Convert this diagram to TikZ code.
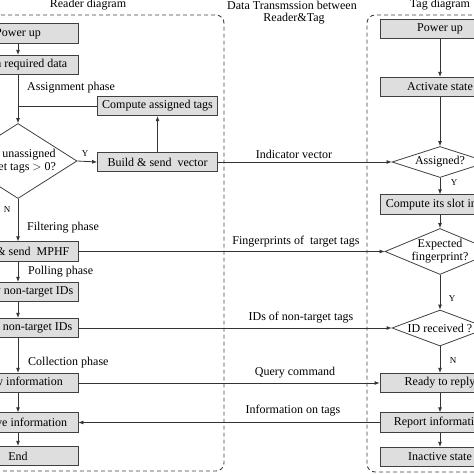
\documentclass[tikz,border=0pt]{standalone}
\usepackage{fontspec}
\setmainfont{Liberation Serif}
\usetikzlibrary{arrows.meta,shapes.geometric}
\begin{document}
\begin{tikzpicture}[x=1pt,y=-1pt,
  line/.style={draw=black!80, line width=0.8pt},
  arr/.style={line, -{Latex[length=5pt,width=4pt]}},
  box/.style={draw=black!75, line width=0.8pt, fill=black!13, minimum width=120pt, minimum height=19.5pt, inner sep=0pt, font=\fontsize{12}{13}\selectfont},
  dec/.style={draw=black!75, line width=0.8pt, shape=diamond, inner sep=0pt},
  dectext/.style={font=\fontsize{12}{13}\selectfont, align=center, inner sep=0pt},
  lbl/.style={font=\fontsize{12}{13}\selectfont, inner sep=0pt},
  yn/.style={font=\fontsize{9}{10}\selectfont, inner sep=0pt},
  frame/.style={draw=black!75, line width=0.9pt, dash pattern=on 4pt off 3pt, rounded corners=8pt}]
\useasboundingbox (0,0) rectangle (474,474);
\clip (0,0) rectangle (474,474);

% titles
\node[lbl] (t1) at (88,5) {Reader diagram};
\node[lbl] (t2) at (292,5) {Data Transmssion between};
\node[lbl] (t3) at (294,19) {Reader\&Tag};
\node[lbl] (t4) at (440,5) {Tag diagram};

% frames
\draw[frame] (-20,15) -- (224,15) -- (224,471) -- (-20,471);
\draw[frame] (500,15) -- (367,15) -- (367,472) -- (500,472);

% reader side
\node[box] (rpow) at (18,33.5) {Power up};
\node[box] (rreq) at (18,65) {Obtain required data};
\node[box] (rcomp) at (157.5,106) {Compute assigned tags};
\node[dec, minimum width=118pt, minimum height=75pt] (rdec) at (18,161) {};
\node[dectext] (rdect) at (18,161) {\# of unassigned\\target tags $>$ 0?};
\node[box] (rbuild) at (157.5,162) {Build \& send\ \ vector};
\node[box] (rmphf) at (18,251.5) {Build \& send\ \ MPHF};
\node[box] (rid1) at (18,292) {Identify non-target IDs};
\node[box] (rid2) at (18,328) {Deliver non-target IDs};
\node[box] (rquery) at (18,383) {Query information};
\node[box] (rrecv) at (18,422.5) {Receive information};
\node[box] (rend) at (18,456) {End};

\coordinate (rjoin) at (18,106);

\node[lbl, anchor=west] (pa) at (27,88) {Assignment phase};
\node[lbl, anchor=west] (pf) at (27,228) {Filtering phase};
\node[lbl, anchor=west] (pp) at (28,272) {Polling phase};
\node[lbl, anchor=west] (pc) at (28,363) {Collection phase};

\draw[arr] (rpow) -- (rreq);
\draw[arr] (rreq.south) -- (rdec.north);
\draw[line] (rcomp.west) -- (rjoin);
\draw[arr] (rdec.east) -- (rbuild.west);
\draw[arr] (rbuild.north) -- (rcomp.south);
\draw[arr] (rdec.south) -- (rmphf.north);
\draw[arr] (rmphf) -- (rid1);
\draw[arr] (rid1) -- (rid2);
\draw[arr] (rid2) -- (rquery);
\draw[arr] (rquery) -- (rrecv);
\draw[arr] (rrecv) -- (rend);
\node[yn] (ry) at (85,154) {Y};
\node[yn] (rn) at (7,210) {N};

% tag side
\node[box] (tpow) at (440,29) {Power up};
\node[box] (tact) at (440,87) {Activate state};
\node[dec, minimum width=96pt, minimum height=31pt] (tasg) at (440,162) {};
\node[dectext] (tasgt) at (440,162) {Assigned?};
\node[box] (tslot) at (440,204.5) {Compute its slot index};
\node[dec, minimum width=110pt, minimum height=46pt] (texp) at (440,251.5) {};
\node[dectext] (texpt) at (440,251) {Expected\\fingerprint?};
\node[dec, minimum width=96pt, minimum height=36pt] (tid) at (440,328) {};
\node[dectext] (tidt) at (440,328) {ID received ?};
\node[box] (tready) at (440,383) {Ready to reply};
\node[box] (trep) at (440,422.5) {Report information};
\node[box] (tinact) at (440,457) {Inactive state};

\draw[arr] (tpow) -- (tact);
\draw[arr] (tact.south) -- (tasg.north);
\draw[arr] (tasg.south) -- (tslot.north);
\draw[arr] (tslot.south) -- (texp.north);
\draw[arr] (texp.south) -- (tid.north);
\draw[arr] (tid.south) -- (tready.north);
\draw[arr] (tready) -- (trep);
\draw[arr] (trep) -- (tinact);
\node[yn] (ty1) at (454,183) {Y};
\node[yn] (ty2) at (452,299) {Y};
\node[yn] (tn) at (453,361) {N};

% transmissions
\draw[arr] (rbuild.east) -- (tasg.west);
\draw[arr] (rmphf.east) -- (texp.west);
\draw[arr] (rid2.east) -- (tid.west);
\draw[arr] (rquery.east) -- (tready.west);
\draw[arr] (trep.west) -- (rrecv.east);
\node[lbl] (m1) at (294,154) {Indicator vector};
\node[lbl] (m2) at (296,242) {Fingerprints of\ \ target tags};
\node[lbl] (m3) at (301,318) {IDs of non-target tags};
\node[lbl] (m4) at (295,373) {Query command};
\node[lbl] (m5) at (293,411) {Information on tags};
\end{tikzpicture}
\end{document}
